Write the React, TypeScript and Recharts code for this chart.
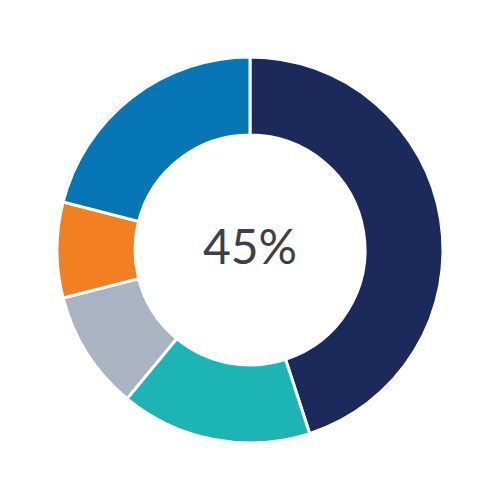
import { Cell, Pie, PieChart } from 'recharts'

const SEGMENTS = ['Navy', 'Teal', 'Gray', 'Orange', 'Blue']
const VALUES = [45, 16, 10, 8, 21]
const COLORS = ['#1b2a5b', '#1db4b6', '#a9b3c1', '#f27f22', '#0676b4']
const CENTER_LABEL = '45%'

const data = SEGMENTS.map((name, i) => ({ name, value: VALUES[i] }))

export default function App() {
  return (
    <div style={{ position: 'absolute', left: 0, top: 0, width: 500, height: 500, background: '#fff' }}>
      <PieChart width={500} height={500} margin={{ top: 0, right: 0, bottom: 0, left: 0 }}>
        <Pie
          data={data}
          dataKey="value"
          nameKey="name"
          cx={250}
          cy={250}
          innerRadius={115}
          outerRadius={193}
          startAngle={90}
          endAngle={-270}
          stroke="#ffffff"
          strokeWidth={3}
          isAnimationActive={false}
        >
          {data.map((_, i) => (
            <Cell key={i} fill={COLORS[i]} />
          ))}
        </Pie>
        <text
          x={250}
          y={264}
          textAnchor="middle"
          style={{ fontFamily: 'Lato, sans-serif', fontSize: 48, fill: '#3b404a' }}
        >
          {CENTER_LABEL}
        </text>
      </PieChart>
    </div>
  )
}
